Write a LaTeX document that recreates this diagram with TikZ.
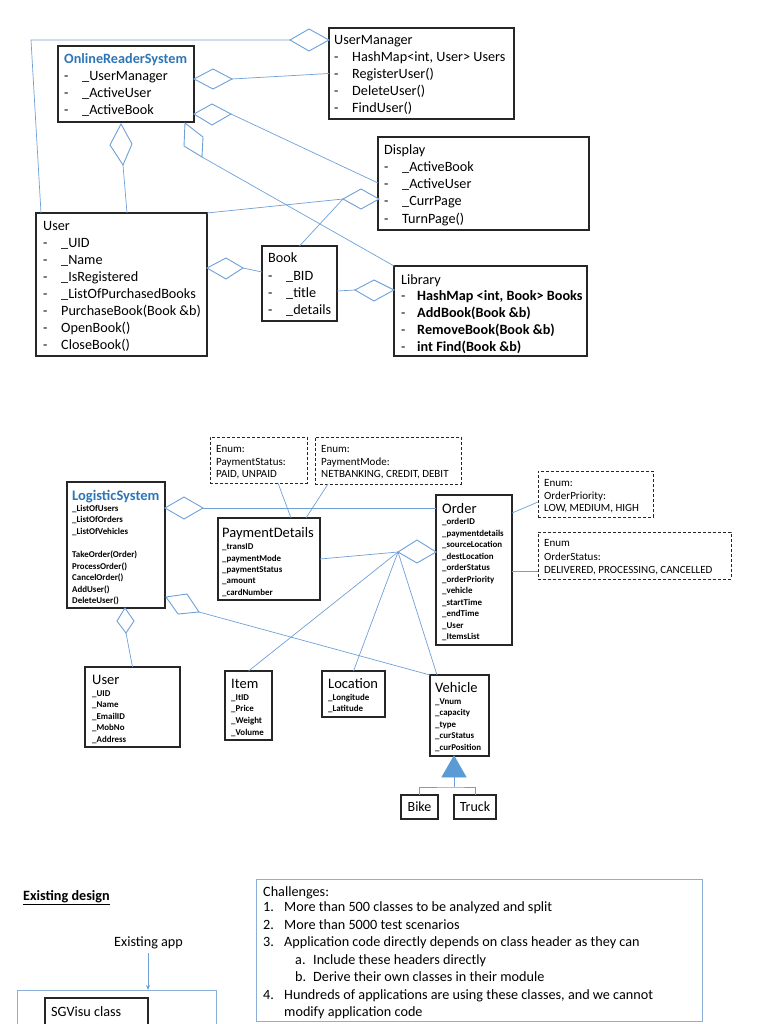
\documentclass[tikz,border=0pt]{standalone}
\usepackage{fontspec}
\setmainfont{Carlito}
\usetikzlibrary{calc,arrows.meta}
\definecolor{lb}{RGB}{110,160,215}
\definecolor{tblue}{RGB}{46,117,182}
\definecolor{trifill}{RGB}{91,155,213}
\definecolor{boxblue}{RGB}{140,175,215}
\newcommand{\dsh}[1]{\makebox[#1][l]{-}}
\newcommand{\clines}[6][]{\foreach \t [count=\i] in {#6} {\node[txt,#1] (#2-\i) at (#3,{#4+(\i-1)*#5}) {\t};}}
\newcommand{\dmd}[9]{\coordinate (#1-l) at (#2,#3); \coordinate (#1-t) at (#4,#5); \coordinate (#1-r) at (#6,#7); \coordinate (#1-b) at (#8,#9); \draw[dia] (#1-l) -- (#1-t) -- (#1-r) -- (#1-b) -- cycle;}
\begin{document}
\begin{tikzpicture}[x=1pt,y=-1pt,
  box/.style={draw=black!85, line width=1.1pt, anchor=north west, inner sep=0pt, outer sep=0pt},
  ebox/.style={box, dash pattern=on 3pt off 2pt, line width=1pt},
  conn/.style={draw=lb, line width=0.7pt},
  dia/.style={draw=lb, line width=0.9pt, fill=white, line join=miter},
  txt/.style={inner sep=0pt, anchor=base west},
  ft/.style={font=\fontsize{14.2}{16}\selectfont},
  ftb/.style={font=\fontsize{14.2}{16}\selectfont\bfseries},
  fs/.style={font=\fontsize{8.9}{10}\selectfont\bfseries},
  fe/.style={font=\fontsize{11}{12}\selectfont},
  fh/.style={font=\fontsize{14.5}{16}\selectfont},
  fc/.style={font=\fontsize{14.2}{16}\selectfont}
]
\useasboundingbox (0,0) rectangle (768,1024);
\clip (0,0) rectangle (768,1024);

% ================= TOP DIAGRAM =================
\node[box, minimum width=136, minimum height=76] (ors) at (58,46) {};
\node[box, minimum width=185, minimum height=91] (um) at (329,28) {};
\node[box, minimum width=211, minimum height=93] (disp) at (378,137) {};
\node[box, minimum width=171, minimum height=143] (user) at (36,213) {};
\node[box, minimum width=75, minimum height=75] (book) at (262,246) {};
\node[box, minimum width=193, minimum height=90] (lib) at (394,266) {};

\node[txt, ftb, text=tblue] (ors-t) at (64,63.5) {OnlineReaderSystem};
\clines[ft]{ors}{64}{80.5}{17}{\dsh{18pt}\_UserManager, \dsh{18pt}\_ActiveUser, \dsh{18pt}\_ActiveBook}
\node[txt, ft] (um-t) at (334,45) {UserManager};
\clines[ft]{um}{334}{61.5}{17}{{\dsh{18pt}HashMap<int, User> Users}, \dsh{18pt}RegisterUser(), \dsh{18pt}DeleteUser(), \dsh{18pt}FindUser()}
\node[txt, ft] (disp-t) at (384,154.5) {Display};
\clines[ft]{disp}{384}{171.5}{17.2}{\dsh{18pt}\_ActiveBook, \dsh{18pt}\_ActiveUser, \dsh{18pt}\_CurrPage, \dsh{18pt}TurnPage()}
\node[txt, ft] (user-t) at (43,230.5) {User};
\clines[ft]{user}{43}{247.5}{17}{\dsh{18pt}\_UID, \dsh{18pt}\_Name, \dsh{18pt}\_IsRegistered, \dsh{18pt}\_ListOfPurchasedBooks, \dsh{18pt}PurchaseBook(Book \&b), \dsh{18pt}OpenBook(), \dsh{18pt}CloseBook()}
\node[txt, ft] (book-t) at (268,262.5) {Book};
\clines[ft]{book}{268}{280}{17}{\dsh{18pt}\_BID, \dsh{18pt}\_title, \dsh{18pt}\_details}
\node[txt, ft] (lib-t) at (401,284.5) {Library};
\clines[ft]{lib}{401}{300.5}{17}{{\dsh{16pt}\textbf{HashMap <int, Book> Books}}, \dsh{16pt}\textbf{AddBook(Book \&b)}, \dsh{16pt}\textbf{RemoveBook(Book \&b)}, \dsh{16pt}\textbf{int Find(Book \&b)}}

% connectors (top)
\coordinate (c-corner) at (31,40);
\draw[conn] ($(user.north west)+(5,0)$) -- (c-corner) -- (290,40);
\draw[conn] (232,79) -- (um.west);
\draw[conn] (231,114) -- ($(disp.north west)+(0,46)$);
\draw[conn] (202,157) -- (lib.north west);
\draw[conn] (123,165) -- ($(user.north west)+(91,0)$);
\draw[conn] (user.north east) -- (343,199);
\draw[conn] (book.north) -- (343,199);
\draw[conn] ($(book.north east)+(0,45)$) -- (355,290);
\draw[conn] (243,268) -- ($(book.north west)+(0,26)$);

\dmd{d1}{290}{40}{309}{29}{329}{40}{309}{51}
\dmd{d2}{194}{79}{213}{69}{232}{79}{213}{89}
\dmd{d3}{194}{114}{212}{104}{231}{114}{212}{125}
\dmd{d4}{185}{123}{203}{137}{202}{157}{184}{146}
\dmd{d5}{110}{145}{121}{124}{132}{144}{123}{165}
\dmd{d6}{343}{199}{361}{189}{379}{199}{361}{209}
\dmd{d7}{355}{290}{374}{280}{394}{290}{374}{301}
\dmd{d8}{207}{268}{226}{258}{243}{268}{226}{279}

% ================= MIDDLE DIAGRAM =================
\node[box, minimum width=98, minimum height=126] (ls) at (67,482) {};
\node[ebox, minimum width=97, minimum height=46] (eps) at (210,437) {};
\node[ebox, minimum width=146, minimum height=47] (epm) at (315,437) {};
\node[box, minimum width=76, minimum height=150] (order) at (436,495) {};
\node[ebox, minimum width=115, minimum height=46] (eop) at (538,471) {};
\node[ebox, minimum width=193, minimum height=47] (eos) at (538,532) {};
\node[box, minimum width=102, minimum height=82] (pd) at (218,518) {};
\node[box, minimum width=95, minimum height=80] (user2) at (85,667) {};
\node[box, minimum width=47, minimum height=69] (item) at (225,671) {};
\node[box, minimum width=63, minimum height=46] (loc) at (322,671) {};
\node[box, minimum width=59, minimum height=81] (veh) at (430,675) {};
\node[box, minimum width=37, minimum height=24, font=\fontsize{14}{16}\selectfont] (bike) at (401,795) {Bike};
\node[box, minimum width=42, minimum height=24, font=\fontsize{14}{16}\selectfont] (truck) at (454,795) {Truck};

\node[txt, text=tblue, font=\fontsize{14.5}{16}\selectfont\bfseries] (ls-t) at (72,500) {LogisticSystem};
\clines[fs]{ls}{72}{511}{11.6}{\_ListOfUsers, \_ListOfOrders, \_ListOfVehicles}
\clines[fs]{lsm}{72}{557.4}{11.6}{TakeOrder(Order), ProcessOrder(), CancelOrder(), AddUser(), DeleteUser()}
\clines[fe]{eps}{216}{452.5}{12.5}{Enum:, PaymentStatus:, {PAID, UNPAID}}
\clines[fe]{epm}{321}{452.5}{12.5}{Enum:, PaymentMode:, {NETBANKING, CREDIT, DEBIT}}
\node[txt, fh] (order-t) at (442,513) {Order};
\clines[fs]{order}{442}{524.7}{11.5}{\_orderID, \_paymentdetails, \_sourceLocation, \_destLocation, \_orderStatus, \_orderPriority, \_vehicle, \_startTime, \_endTime, \_User, \_ItemsList}
\clines[fe]{eop}{544}{486.5}{12.5}{Enum:, OrderPriority:, {LOW, MEDIUM, HIGH}}
\clines[fe]{eos}{544}{546.5}{13.5}{Enum, OrderStatus:, {DELIVERED, PROCESSING, CANCELLED}}
\node[txt, fh] (pd-t) at (222,537) {PaymentDetails};
\clines[fs]{pd}{222}{549.7}{11.4}{\_transID, \_paymentMode, \_paymentStatus, \_amount, \_cardNumber}
\node[txt, fh] (user2-t) at (92,684) {User};
\clines[fs]{user2}{92}{696}{11.6}{\_UID, \_Name, \_EmailID, \_MobNo, \_Address}
\node[txt, fh] (item-t) at (231,688) {Item};
\clines[fs]{item}{231}{700}{11.7}{\_ItID, \_Price, \_Weight, \_Volume}
\node[txt, fh] (loc-t) at (328,688) {Location};
\clines[fs]{loc}{328}{700}{11.5}{\_Longitude, \_Latitude}
\node[txt, fh] (veh-t) at (435,692) {Vehicle};
\clines[fs]{veh}{435}{704}{11.6}{\_Vnum, \_capacity, \_type, \_curStatus, \_curPosition}

% connectors (middle)
\draw[conn] (203,508) -- ($(order.north west)+(0,13)$);
\draw[conn] (398,552) -- (pd.east);
\draw[conn] (398,552) -- (item.north);
\draw[conn] (398,552) -- (loc.north);
\draw[conn] (398,552) -- ($(veh.north west)+(7,0)$);
\draw[conn] (199,612) -- (veh.north west);
\draw[conn] (126,633) -- (user2.north);
\draw[conn] ($(eps.south west)+(68,0)$) -- ($(pd.north west)+(73,0)$);
\draw[conn] ($(epm.south west)+(13,0)$) -- ($(pd.north west)+(88,0)$);
\draw[conn] ($(order.north east)+(0,18)$) -- ($(eop.north west)+(0,31)$);
\draw[conn] ($(order.north east)+(0,76)$) -- ($(eos.north west)+(0,39)$);

\dmd{m1}{165}{508}{184}{497}{203}{508}{184}{519}
\dmd{m2}{398}{552}{417}{540}{436}{552}{417}{563}
\dmd{m3}{166}{597}{187}{594}{199}{612}{178}{614}
\dmd{m4}{117}{621}{125}{608}{134}{621}{126}{633}

% inheritance
\coordinate (tri-apex) at ($(veh.south west)+(24,0)$);
\coordinate (tri-base) at (454,777);
\coordinate (inh-bar) at (454,787);
\draw[conn] (tri-base) -- (inh-bar);
\draw[conn] (bike.north -| 419,0) |- (inh-bar) -| (truck.north -| 475,0);
\draw[draw=trifill, fill=trifill, line width=0.8pt, line join=miter] (tri-apex) -- (442,777) -- (466,777) -- cycle;

% ================= BOTTOM =================
\node[txt, font=\fontsize{14.2}{16}\selectfont\bfseries] (exd) at (23,900.5) {\underline{Existing design}};
\node[txt, fc] (app) at (114,946.5) {Existing app};
\node[draw=boxblue, line width=0.9pt, anchor=north west, inner sep=0pt, outer sep=0pt, minimum width=199, minimum height=60] (big) at (17,990) {};
\coordinate (arr-s) at (148,953);
\draw[lb, line width=0.8pt, -{Stealth[length=5pt,width=4pt]}] (arr-s) -- (arr-s |- big.north);
\node[box, minimum width=103, minimum height=50] (sgv) at (45,998) {};
\node[txt, fc] (sgv-t) at (51,1016.5) {SGVisu class};

\node[draw=boxblue, line width=1pt, anchor=north west, inner sep=0pt, outer sep=0pt, minimum width=446, minimum height=142] (chal) at (256,879) {};
\node[txt, fc] (chal-t) at (263,896.5) {Challenges:};
\node[txt, fc] (ch1n) at (263,911.5) {1.};
\node[txt, fc] (ch1) at (284,911.5) {More than 500 classes to be analyzed and split};
\node[txt, fc] (ch2n) at (263,929) {2.};
\node[txt, fc] (ch2) at (284,929) {More than 5000 test scenarios};
\node[txt, fc] (ch3n) at (263,946.5) {3.};
\node[txt, fc] (ch3) at (284,946.5) {Application code directly depends on class header as they can};
\node[txt, fc] (chan) at (295,964) {a.};
\node[txt, fc] (cha) at (313,964) {Include these headers directly};
\node[txt, fc] (chbn) at (295,981.5) {b.};
\node[txt, fc] (chb) at (313,981.5) {Derive their own classes in their module};
\node[txt, fc] (ch4n) at (263,999) {4.};
\node[txt, fc] (ch4) at (284,999) {Hundreds of applications are using these classes, and we cannot};
\node[txt, fc] (ch4b) at (284,1016.5) {modify application code};
\end{tikzpicture}
\end{document}
